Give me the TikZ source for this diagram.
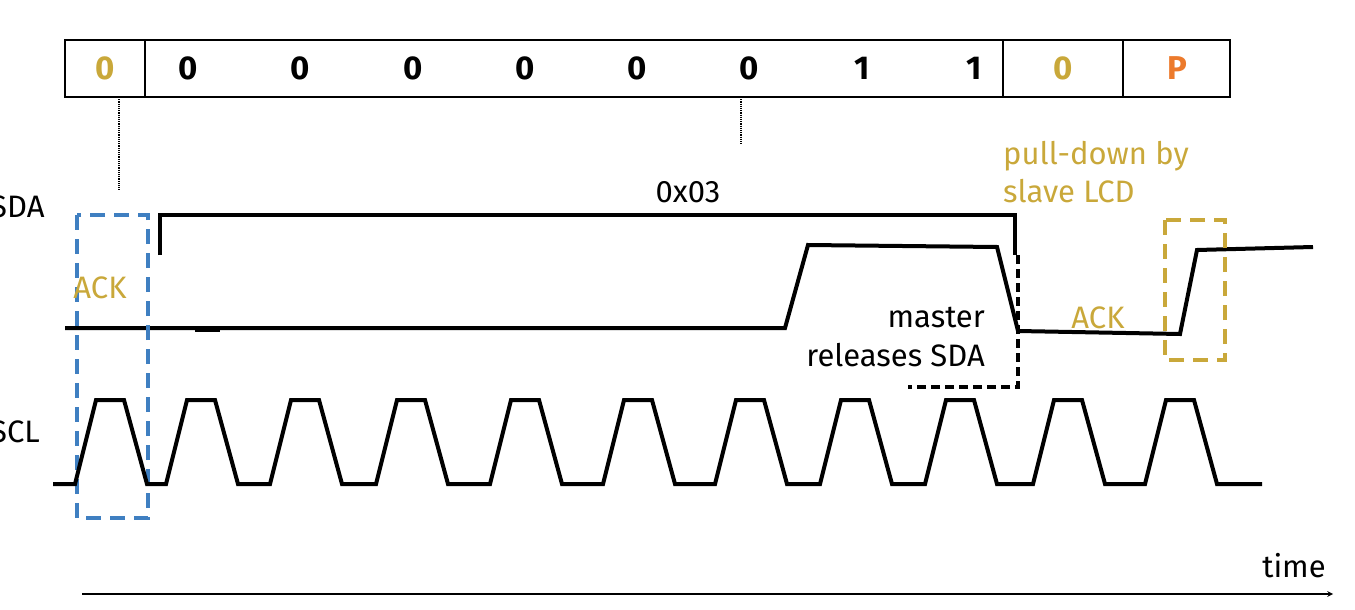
\documentclass[tikz,border=0pt]{standalone}
\usepackage{fontspec}
\setmainfont{Fira Sans}
\definecolor{gold}{HTML}{C9A83A}
\definecolor{porange}{HTML}{EC7A2C}
\definecolor{ackblue}{HTML}{3F7FC1}
\begin{document}
\begin{tikzpicture}[x=1pt,y=-1pt,
  wave/.style={line width=4pt,line join=miter},
  lbl/.style={font=\fontsize{31}{35}\selectfont,inner sep=0pt},
  dig/.style={font=\fontsize{33}{35}\selectfont\bfseries,inner sep=0pt},
  cell/.style={draw,line width=2pt}]
\useasboundingbox (0,0) rectangle (1355,610);
% top register
\draw[cell] (65,40) rectangle (1230,97);
\draw[line width=2pt] (145,40) -- (145,97) (1003,40) -- (1003,97) (1123,40) -- (1123,97);
\node[dig,text=gold] (d0) at (105,68) {0};
\foreach \x [count=\i] in {188,300,413,525,637,749}
  \node[dig] (b\i) at (\x,68) {0};
\node[dig] (b7) at (862,68) {1};
\node[dig] (b8) at (974,68) {1};
\node[dig,text=gold] (d9) at (1063,68) {0};
\node[dig,text=porange] (dp) at (1177,68) {P};
\coordinate (t1) at (119,97); \coordinate (t1e) at (119,190);
\coordinate (t2) at (741,97); \coordinate (t2e) at (741,145);
\draw[densely dotted,line width=1.2pt] (t1) -- (t1e) (t2) -- (t2e);
% labels
\node[lbl,anchor=west] (sda) at (-10,207) {SDA};
\node[lbl,anchor=west] (scl) at (-10,432) {SCL};
% bracket
\draw[line width=3.5pt] (160,255) -- (160,215) -- (1015,215) -- (1015,255);
\node[lbl] (hex) at (688,192) {0x03};
% SDA wave
\draw[wave] (65,328) -- (785,328) -- (808,245) -- (997,247) -- (1018,331) -- (1180,334) -- (1197,250) -- (1313,247);
\draw[line width=3pt] (195,330) -- (220,330);
\draw[line width=3.5pt,dash pattern=on 9pt off 5pt] (1018,255) -- (1018,387) -- (908,387);
\node[lbl,anchor=east] (m1) at (985,318) {master};
\node[lbl,anchor=east] (m2) at (985,355) {releases SDA};
\node[lbl,text=gold] (ack2) at (1098,318) {ACK};
\node[lbl,text=gold,anchor=west] (pd1) at (1003,156) {pull-down by};
\node[lbl,text=gold,anchor=west] (pd2) at (1003,191) {slave LCD};
\draw[gold,line width=3.5pt,dash pattern=on 15pt off 9pt] (1165,220) rectangle (1225,360);
% ACK box
\draw[ackblue,line width=3.5pt,dash pattern=on 15pt off 9pt] (77,215) rectangle (148,518);
\node[lbl,text=gold] (ack1) at (100,288) {ACK};
% SCL wave
\draw[wave] (53,484)
 \foreach \c in {110,201,305,411,525,638,750,855,960,1068,1180} {
   -- ({\c-35},484) -- ({\c-14},400) -- ({\c+14},400) -- ({\c+37},484) }
 -- (1262,484);
% time axis
\coordinate (ta) at (82,594); \coordinate (tb) at (1333,594);
\draw[-stealth,line width=1.5pt] (ta) -- (tb);
\node[lbl] (time) at (1294,566) {time};
\end{tikzpicture}
\end{document}
